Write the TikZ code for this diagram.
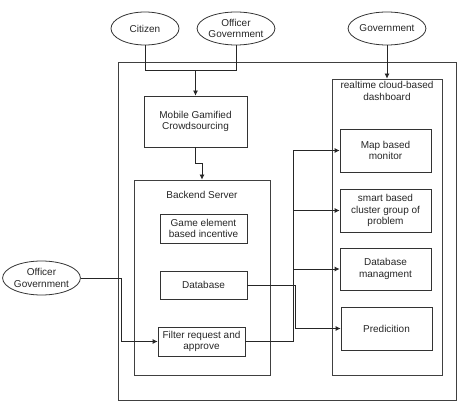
\documentclass[tikz,border=0pt]{standalone}
\usepackage{fontspec}
\setmainfont{Liberation Sans}
\usetikzlibrary{shapes.geometric, arrows.meta}

\begin{document}
\begin{tikzpicture}[x=1pt, y=-1pt, font=\fontsize{10}{11.7}\selectfont]
    \tikzstyle{actor} = [ellipse, draw=black!80, text=black!85, line width=0.8pt, inner sep=0pt, minimum width=68pt, minimum height=33pt, align=center]
    \tikzstyle{block} = [rectangle, draw=black!80, text=black!85, line width=0.8pt, inner sep=0pt, align=center]
    \tikzstyle{frame} = [rectangle, draw=black!75, line width=0.8pt, inner sep=0pt]
    \tikzstyle{link} = [draw=black!85, line width=0.8pt]
    \tikzstyle{arr} = [link, -{Latex[length=5pt, width=5pt]}]

    \useasboundingbox (0,0) rectangle (474,406);

    % Outer system
    \draw[frame] (118,62) rectangle (456,400);

    % Actors
    \node[actor] (citizen) at (145,28.5) {Citizen};
    \node[actor] (offtop) at (236,28.5) {Officer\\Government};
    \node[actor] (govtop) at (387,28.5) {Government};
    \node[actor, minimum width=69pt, minimum height=34pt] (offleft) at (41.5,278) {Officer\\Government};

    % Mobile app
    \node[block, minimum width=103pt, minimum height=51pt] (mobile) at (195.5,121.5) {Mobile Gamified\\Crowdsourcing};

    % Backend
    \node[frame, minimum width=136pt, minimum height=195pt] (backend) at (202,277.5) {};
    \node[text=black!85] (backendlbl) at (202,195) {Backend Server};
    \node[block, minimum width=87pt, minimum height=29pt] (game) at (203.5,228.5) {Game element\\based incentive};
    \node[block, minimum width=87pt, minimum height=28pt] (database) at (203.5,285) {Database};
    \node[block, minimum width=87pt, minimum height=29pt] (filter) at (201.5,341.5) {Filter request and\\approve};

    % Dashboard
    \node[frame, minimum width=110pt, minimum height=296pt] (dash) at (387,227) {};
    \node[text=black!85, align=center] (dashlbl) at (387,91) {realtime cloud-based\\dashboard};
    \node[block, minimum width=91pt, minimum height=43pt] (map) at (385.5,150.5) {Map based\\monitor};
    \node[block, minimum width=91pt, minimum height=43pt] (smart) at (385.5,210.5) {smart based\\cluster group of\\problem};
    \node[block, minimum width=91pt, minimum height=42pt] (dbman) at (385.5,269) {Database\\managment};
    \node[block, minimum width=91pt, minimum height=43pt] (pred) at (386.5,328.5) {Predicition};

    % Connectors
    \coordinate (join) at (195.5,70.7);
    \draw[link] (citizen.south) |- (join);
    \draw[link] (offtop.south) |- (join);
    \draw[arr] (join) -- (mobile.north);
    \draw[arr] (mobile.south) -- ++(0,16) -| (backend.north);
    \draw[arr] (govtop.south) -- (dash.north);
    \draw[arr] (offleft.east) -- ++(41,0) |- (filter.west);
    \draw[arr] (filter.east) -- ++(48,0) |- (map.west);
    \draw[arr] (database.east) -- ++(46,0) |- (smart.west);
    \draw[arr] (database.east) -- ++(46,0) |- (dbman.west);
    \draw[arr] (database.east) -- ++(48,0) |- (pred.west);
\end{tikzpicture}
\end{document}
